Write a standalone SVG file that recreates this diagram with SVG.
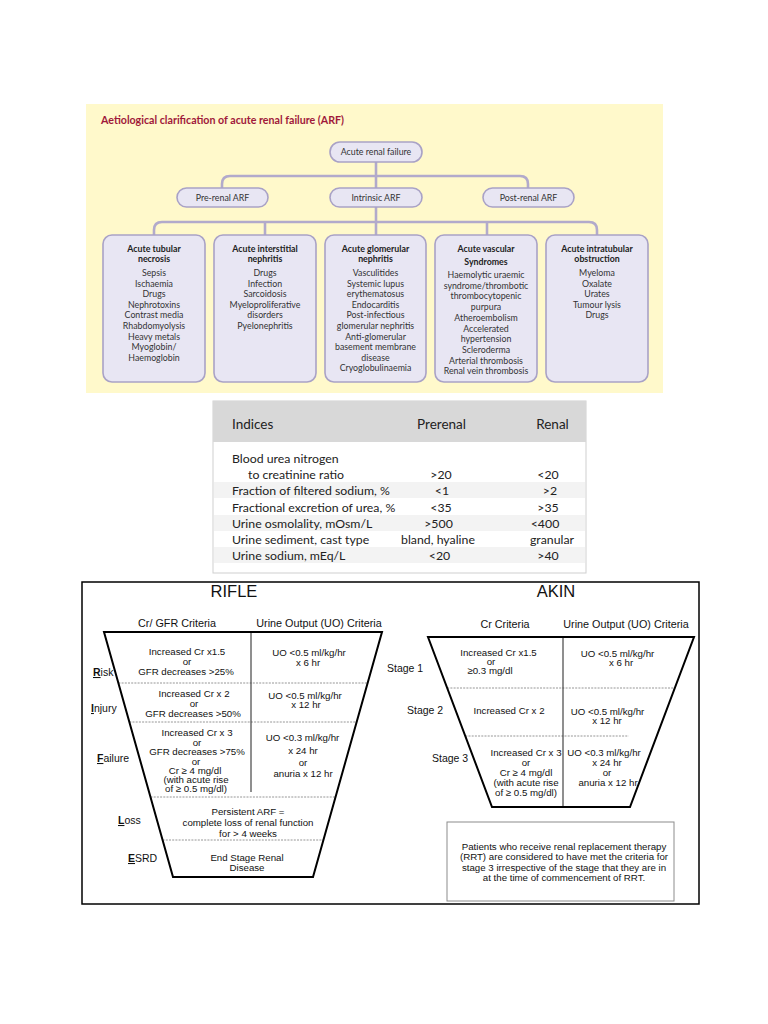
<svg xmlns="http://www.w3.org/2000/svg" width="768" height="1024" viewBox="0 0 768 1024">
<style>
.yl{font-family:Lato,"Open Sans","Liberation Sans",sans-serif;fill:#333;}
.bx{fill:#e8e6f3;stroke:#a9a2c6;stroke-width:1.6;}
.it{font-size:8.8px;text-anchor:middle;}
.ttl{font-size:8.8px;font-weight:bold;text-anchor:middle;fill:#222;}
.conn{fill:none;stroke:#b2aacb;stroke-width:2.6;}
.tb{font-family:Lato,"Open Sans","Liberation Sans",sans-serif;fill:#222;font-size:12.3px;}
.tbh{font-size:13.5px;}
.ar{font-family:"Liberation Sans",Arial,sans-serif;fill:#111;}
.c{font-size:9.7px;text-anchor:middle;}
.hd{font-size:10.8px;text-anchor:middle;}
.lb{font-size:10.5px;}
.big{font-size:16.5px;text-anchor:middle;}
.trap{fill:none;stroke:#000;stroke-width:2;}
.dash{stroke:#8a8a8a;stroke-width:0.9;stroke-dasharray:2 1.2;}
.div{stroke:#333;stroke-width:1.1;}
.u{font-weight:bold;text-decoration:underline;}
</style>
<rect width="768" height="1024" fill="#ffffff"/>

<!-- Panel 1: aetiology -->
<g id="panel-aetiology">
<rect x="86" y="104" width="577" height="289" fill="#fff9cb"/>
<text x="101" y="124" class="yl" font-size="10.5" font-weight="bold" textLength="243" lengthAdjust="spacingAndGlyphs" style="fill:#a0183a">Aetiological clarification of acute renal failure (ARF)</text>
</g>

<g id="connectors">
<path class="conn" d="M376 162 V188"/>
<path class="conn" d="M222 188 V184 Q222 176 230 176 H520 Q528 176 528 184 V188"/>
<path class="conn" d="M376 207 V235"/>
<path class="conn" d="M154 235 V230 Q154 222 162 222 H589 Q597 222 597 230 V235"/>
<path class="conn" d="M265 222 V235"/>
<path class="conn" d="M487 222 V235"/>
</g>

<g id="node-arf">
<rect class="bx" x="330" y="142" width="92" height="20" rx="10"/>
<text class="yl it" x="376" y="155">Acute renal failure</text>
</g>
<g id="node-prerenal">
<rect class="bx" x="177" y="188" width="91" height="19" rx="9.5"/>
<text class="yl it" x="222.5" y="200.5">Pre-renal ARF</text>
</g>
<g id="node-intrinsic">
<rect class="bx" x="330" y="188" width="92" height="19" rx="9.5"/>
<text class="yl it" x="376" y="200.5">Intrinsic ARF</text>
</g>
<g id="node-postrenal">
<rect class="bx" x="483" y="188" width="91" height="19" rx="9.5"/>
<text class="yl it" x="528.5" y="200.5">Post-renal ARF</text>
</g>

<g id="node-atn">
<rect class="bx" x="103" y="235" width="102" height="147" rx="9"/>
<text class="yl ttl" x="154" y="252">Acute tubular<tspan x="154" dy="10">necrosis</tspan></text>
<text class="yl it" x="154" y="276">Sepsis<tspan x="154" dy="10.6">Ischaemia</tspan><tspan x="154" dy="10.6">Drugs</tspan><tspan x="154" dy="10.6">Nephrotoxins</tspan><tspan x="154" dy="10.6">Contrast media</tspan><tspan x="154" dy="10.6">Rhabdomyolysis</tspan><tspan x="154" dy="10.6">Heavy metals</tspan><tspan x="154" dy="10.6">Myoglobin/</tspan><tspan x="154" dy="10.6">Haemoglobin</tspan></text>
</g>
<g id="node-ain">
<rect class="bx" x="214" y="235" width="102" height="147" rx="9"/>
<text class="yl ttl" x="265" y="252">Acute interstitial<tspan x="265" dy="10">nephritis</tspan></text>
<text class="yl it" x="265" y="276">Drugs<tspan x="265" dy="10.6">Infection</tspan><tspan x="265" dy="10.6">Sarcoidosis</tspan><tspan x="265" dy="10.6">Myeloproliferative</tspan><tspan x="265" dy="10.6">disorders</tspan><tspan x="265" dy="10.6">Pyelonephritis</tspan></text>
</g>
<g id="node-agn">
<rect class="bx" x="325" y="235" width="101" height="147" rx="9"/>
<text class="yl ttl" x="375.5" y="252">Acute glomerular<tspan x="375.5" dy="10">nephritis</tspan></text>
<text class="yl it" x="375.5" y="276">Vasculitides<tspan x="375.5" dy="10.6">Systemic lupus</tspan><tspan x="375.5" dy="10.6">erythematosus</tspan><tspan x="375.5" dy="10.6">Endocarditis</tspan><tspan x="375.5" dy="10.6">Post-infectious</tspan><tspan x="375.5" dy="10.6">glomerular nephritis</tspan><tspan x="375.5" dy="10.6">Anti-glomerular</tspan><tspan x="375.5" dy="10.6">basement membrane</tspan><tspan x="375.5" dy="10.6">disease</tspan><tspan x="375.5" dy="10.6">Cryoglobulinaemia</tspan></text>
</g>
<g id="node-avs">
<rect class="bx" x="435" y="235" width="102" height="147" rx="9"/>
<text class="yl ttl" x="486" y="252">Acute vascular<tspan x="486" dy="12.5">Syndromes</tspan></text>
<text class="yl it" x="486" y="278">Haemolytic uraemic<tspan x="486" dy="10.7">syndrome/thrombotic</tspan><tspan x="486" dy="10.7">thrombocytopenic</tspan><tspan x="486" dy="10.7">purpura</tspan><tspan x="486" dy="10.7">Atheroembolism</tspan><tspan x="486" dy="10.7">Accelerated</tspan><tspan x="486" dy="10.7">hypertension</tspan><tspan x="486" dy="10.7">Scleroderma</tspan><tspan x="486" dy="10.7">Arterial thrombosis</tspan><tspan x="486" dy="10.7">Renal vein thrombosis</tspan></text>
</g>
<g id="node-aio">
<rect class="bx" x="546" y="235" width="102" height="147" rx="9"/>
<text class="yl ttl" x="597" y="252">Acute intratubular<tspan x="597" dy="10">obstruction</tspan></text>
<text class="yl it" x="597" y="276">Myeloma<tspan x="597" dy="10.6">Oxalate</tspan><tspan x="597" dy="10.6">Urates</tspan><tspan x="597" dy="10.6">Tumour lysis</tspan><tspan x="597" dy="10.6">Drugs</tspan></text>
</g>

<!-- Panel 2: indices table -->
<g id="table-indices">
<rect x="213" y="401" width="373" height="172" fill="#ffffff" stroke="#cfcfcf" stroke-width="1"/>
<rect x="213" y="401" width="373" height="41" fill="#d8d8d8"/>
<rect x="214" y="482" width="371" height="16" fill="#f3f3f3"/>
<rect x="214" y="515" width="371" height="16" fill="#f3f3f3"/>
<rect x="214" y="547" width="371" height="16" fill="#f3f3f3"/>
<text class="tb tbh" x="232" y="429">Indices</text>
<text class="tb tbh" x="441.5" y="429" text-anchor="middle">Prerenal</text>
<text class="tb tbh" x="552.5" y="429" text-anchor="middle">Renal</text>
<text class="tb" x="232" y="463">Blood urea nitrogen</text>
<text class="tb" x="248" y="479">to creatinine ratio</text>
<text class="tb" x="232" y="495">Fraction of filtered sodium, %</text>
<text class="tb" x="232" y="512">Fractional excretion of urea, %</text>
<text class="tb" x="232" y="528">Urine osmolality, mOsm/L</text>
<text class="tb" x="232" y="544">Urine sediment, cast type</text>
<text class="tb" x="232" y="560">Urine sodium, mEq/L</text>
<g text-anchor="middle">
<text class="tb" x="441" y="479">&gt;20</text>
<text class="tb" x="442" y="495">&lt;1</text>
<text class="tb" x="441" y="512">&lt;35</text>
<text class="tb" x="438.5" y="528">&gt;500</text>
<text class="tb" x="438" y="544">bland, hyaline</text>
<text class="tb" x="439.5" y="560">&lt;20</text>
<text class="tb" x="548" y="479">&lt;20</text>
<text class="tb" x="550" y="495">&gt;2</text>
<text class="tb" x="548" y="512">&gt;35</text>
<text class="tb" x="545" y="528">&lt;400</text>
<text class="tb" x="552" y="544">granular</text>
<text class="tb" x="548" y="560">&gt;40</text>
</g>
</g>

<!-- Panel 3: RIFLE / AKIN -->
<g id="panel-criteria">
<rect x="82" y="582" width="617" height="322" fill="#ffffff" stroke="#000" stroke-width="1.5"/>
</g>

<g id="rifle">
<text class="ar big" x="234" y="597">RIFLE</text>
<text class="ar hd" x="177" y="626.5">Cr/ GFR Criteria</text>
<text class="ar hd" x="319" y="626.5">Urine Output (UO) Criteria</text>
<line class="dash" x1="118.4" y1="683" x2="367.6" y2="683"/>
<line class="dash" x1="129.3" y1="722" x2="356.7" y2="722"/>
<line class="dash" x1="150.5" y1="797" x2="335.5" y2="797"/>
<line class="dash" x1="162.6" y1="840" x2="323.4" y2="840"/>
<line class="div" x1="251" y1="632" x2="251" y2="792"/>
<polygon class="trap" points="104,632 382,632 313,877 173,877"/>
<text class="ar lb" x="93" y="676"><tspan class="u">R</tspan>isk</text>
<text class="ar lb" x="91" y="712"><tspan class="u">I</tspan>njury</text>
<text class="ar lb" x="97" y="762"><tspan class="u">F</tspan>ailure</text>
<text class="ar lb" x="118" y="824"><tspan class="u">L</tspan>oss</text>
<text class="ar lb" x="128" y="862"><tspan class="u">E</tspan>SRD</text>
<text class="ar c" x="187" y="655">Increased Cr x1.5<tspan x="187" dy="10">or</tspan><tspan x="186" dy="10">GFR decreases &gt;25%</tspan></text>
<text class="ar c" x="309" y="656">UO &lt;0.5 ml/kg/hr<tspan x="308" dy="9.5">x 6 hr</tspan></text>
<text class="ar c" x="194" y="696.5">Increased Cr x 2<tspan x="194" dy="10">or</tspan><tspan x="193" dy="10">GFR decreases &gt;50%</tspan></text>
<text class="ar c" x="305" y="698.5">UO &lt;0.5 ml/kg/hr<tspan x="306" dy="9">x 12 hr</tspan></text>
<text class="ar c" x="197" y="735.5">Increased Cr x 3<tspan x="197" dy="10.2">or</tspan><tspan x="197" dy="9.5">GFR decreases &gt;75%</tspan><tspan x="196" dy="10">or</tspan><tspan x="195" dy="9">Cr ≥ 4 mg/dl</tspan><tspan x="196" dy="9">(with acute rise</tspan><tspan x="196" dy="9">of ≥ 0.5 mg/dl)</tspan></text>
<text class="ar c" x="302.5" y="740.5">UO &lt;0.3 ml/kg/hr<tspan x="303" dy="13">x 24 hr</tspan><tspan x="303" dy="12">or</tspan><tspan x="303" dy="11">anuria x 12 hr</tspan></text>
<text class="ar c" x="248" y="814.5">Persistent ARF =<tspan x="248" dy="11">complete loss of renal function</tspan><tspan x="248" dy="11">for &gt; 4 weeks</tspan></text>
<text class="ar c" x="247" y="860.5">End Stage Renal<tspan x="247" dy="10.5">Disease</tspan></text>
</g>

<g id="akin">
<text class="ar big" x="556" y="597">AKIN</text>
<text class="ar hd" x="505" y="627.5">Cr Criteria</text>
<text class="ar hd" x="626" y="627.5">Urine Output (UO) Criteria</text>
<line class="dash" x1="447.2" y1="688" x2="674.8" y2="688"/>
<line class="dash" x1="465.3" y1="736" x2="628.7" y2="736"/>
<line class="div" x1="563" y1="637" x2="563" y2="807"/>
<polygon class="trap" points="428,637 694,637 630,807 492,807"/>
<text class="ar lb" x="387" y="671.5">Stage 1</text>
<text class="ar lb" x="407" y="713.5">Stage 2</text>
<text class="ar lb" x="432" y="761.5">Stage 3</text>
<text class="ar c" x="498.5" y="655.5">Increased Cr x1.5<tspan x="491" dy="9.2">or</tspan><tspan x="490" dy="9.2">≥0.3 mg/dl</tspan></text>
<text class="ar c" x="617.5" y="656.5">UO &lt;0.5 ml/kg/hr<tspan x="621" dy="9.2">x 6 hr</tspan></text>
<text class="ar c" x="509" y="713.5">Increased Cr x 2</text>
<text class="ar c" x="607.5" y="714.5">UO &lt;0.5 ml/kg/hr<tspan x="607" dy="9.2">x 12 hr</tspan></text>
<text class="ar c" x="526" y="755.5">Increased Cr x 3<tspan x="526" dy="10">or</tspan><tspan x="526" dy="10">Cr ≥ 4 mg/dl</tspan><tspan x="526" dy="10.5">(with acute rise</tspan><tspan x="526" dy="10">of ≥ 0.5 mg/dl)</tspan></text>
<text class="ar c" x="604" y="755.5">UO &lt;0.3 ml/kg/hr<tspan x="607" dy="10">x 24 hr</tspan><tspan x="607" dy="10">or</tspan><tspan x="608" dy="10.5">anuria x 12 hr</tspan></text>
</g>

<g id="note-rrt">
<rect x="447" y="822" width="227" height="79" fill="#ffffff" stroke="#8c8c8c" stroke-width="1"/>
<text class="ar c" x="564" y="849.5" font-size="9.6">Patients who receive renal replacement therapy<tspan x="564" dy="10.5">(RRT) are considered to have met the criteria for</tspan><tspan x="564" dy="10.5">stage 3 irrespective of the stage that they are in</tspan><tspan x="564" dy="10.5">at the time of commencement of RRT.</tspan></text>
</g>
</svg>
